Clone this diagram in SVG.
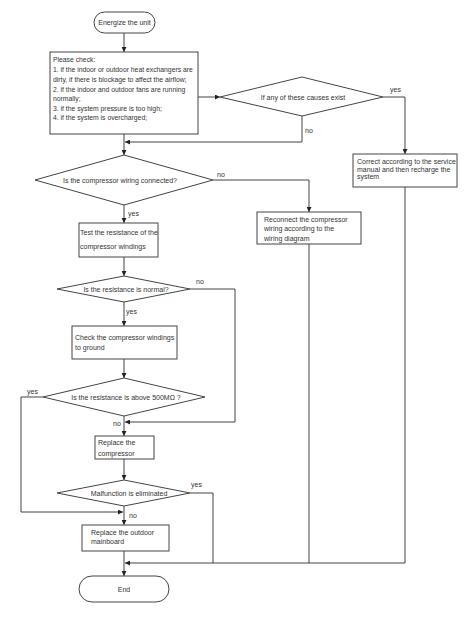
<svg xmlns="http://www.w3.org/2000/svg" width="474" height="619" viewBox="0 0 474 619">
<defs>
<marker id="ah" viewBox="0 0 10 10" refX="10" refY="5" markerWidth="5" markerHeight="5" orient="auto" markerUnits="userSpaceOnUse">
<path d="M0,0 L10,5 L0,10 z" fill="#222"/>
</marker>
<style>
.s{fill:#fff;stroke:#444;stroke-width:1}
.c{fill:none;stroke:#444;stroke-width:1}
text{font-family:"Liberation Sans",Arial,sans-serif;font-size:7px;fill:#333}
.sm{font-size:6.8px}
.m{text-anchor:middle;dominant-baseline:central}
</style>
</defs>
<rect width="474" height="619" fill="#fff"/>
<g id="connectors">
<path class="c" d="M124,33 V52" marker-end="url(#ah)"/>
<path class="c" d="M198,97 H220" marker-end="url(#ah)"/>
<path class="c" d="M383,97 H405 V154" marker-end="url(#ah)"/>
<path class="c" d="M302,116 V142 H125" marker-end="url(#ah)"/>
<path class="c" d="M124,134 V155" marker-end="url(#ah)"/>
<path class="c" d="M213,180 H309 V212" marker-end="url(#ah)"/>
<path class="c" d="M124,205 V223" marker-end="url(#ah)"/>
<path class="c" d="M124,257 V276" marker-end="url(#ah)"/>
<path class="c" d="M190,289 H235 V422 H125" marker-end="url(#ah)"/>
<path class="c" d="M124,302 V326" marker-end="url(#ah)"/>
<path class="c" d="M124,359 V378" marker-end="url(#ah)"/>
<path class="c" d="M43,397 H21 V512 H123" marker-end="url(#ah)"/>
<path class="c" d="M124,416 V436" marker-end="url(#ah)"/>
<path class="c" d="M124,459 V480" marker-end="url(#ah)"/>
<path class="c" d="M124,506 V525" marker-end="url(#ah)"/>
<path class="c" d="M190,493 H213 V563"/>
<path class="c" d="M309,244 V563"/>
<path class="c" d="M405,187 V563 H125" marker-end="url(#ah)"/>
<path class="c" d="M124,551 V576" marker-end="url(#ah)"/>
<text x="390" y="92">yes</text>
<text x="305" y="133">no</text>
<text x="217" y="177">no</text>
<text x="128" y="216">yes</text>
<text x="196" y="284">no</text>
<text x="126" y="314">yes</text>
<text x="27" y="394">yes</text>
<text x="113" y="426">no</text>
<text x="191" y="487">yes</text>
<text x="129" y="518">no</text>
</g>
<g id="start">
<rect class="s" x="94" y="12" width="61" height="21" rx="10.5"/>
<text class="m" x="124.5" y="22.5">Energize the unit</text>
</g>
<g id="check">
<rect class="s" x="50" y="52" width="148" height="82"/>
<text class="sm" x="53" y="62">Please check:</text>
<text class="sm" x="53" y="72">1. if the indoor or outdoor heat exchangers are</text>
<text class="sm" x="53" y="82">dirty, if there is blockage to affect the airflow;</text>
<text class="sm" x="53" y="92">2. if the indoor and outdoor fans are running</text>
<text class="sm" x="53" y="101">normally;</text>
<text class="sm" x="53" y="111">3. if the system pressure is too high;</text>
<text class="sm" x="53" y="120">4. if the system is overcharged;</text>
</g>
<g id="causes">
<polygon class="s" points="220,97 302,77 383,97 302,116"/>
<text class="m" x="303" y="97">If any of these causes exist</text>
</g>
<g id="correct">
<rect class="s" x="353" y="154" width="104" height="33"/>
<text x="357" y="164">Correct according to the service</text>
<text x="357" y="171.5">manual and then recharge the</text>
<text x="357" y="179">system</text>
</g>
<g id="wiring">
<polygon class="s" points="35,180 124,155 213,180 124,205"/>
<text class="m" x="120" y="180">Is the compressor wiring connected?</text>
</g>
<g id="reconnect">
<rect class="s" x="257" y="212" width="104" height="32"/>
<text x="264" y="222">Reconnect the compressor</text>
<text x="264" y="231">wiring according to the</text>
<text x="264" y="241">wiring diagram</text>
</g>
<g id="test">
<rect class="s" x="79" y="223" width="79" height="34"/>
<text x="80" y="235">Test the resistance of the</text>
<text x="80" y="249">compressor windings</text>
</g>
<g id="normal">
<polygon class="s" points="57,289 124,276 190,289 124,302"/>
<text class="m" x="126" y="289">Is the resistance is normal?</text>
</g>
<g id="ground">
<rect class="s" x="72" y="326" width="105" height="33"/>
<text x="75" y="340">Check the compressor windings</text>
<text x="75" y="350">to ground</text>
</g>
<g id="above">
<polygon class="s" points="43,397 124,378 205,397 124,416"/>
<text class="m" x="126" y="397">Is the resistance is above 500MΩ ?</text>
</g>
<g id="replace-comp">
<rect class="s" x="95" y="436" width="59" height="23"/>
<text x="98" y="445">Replace the</text>
<text x="98" y="456">compressor</text>
</g>
<g id="malfunction">
<polygon class="s" points="57,493 124,480 190,493 124,506"/>
<text class="m" x="129" y="493">Malfunction is eliminated</text>
</g>
<g id="replace-board">
<rect class="s" x="82" y="525" width="87" height="26"/>
<text x="91" y="535">Replace the outdoor</text>
<text x="91" y="544">mainboard</text>
</g>
<g id="end">
<rect class="s" x="79" y="576" width="90" height="26" rx="13"/>
<text class="m" x="124" y="589">End</text>
</g>
</svg>
